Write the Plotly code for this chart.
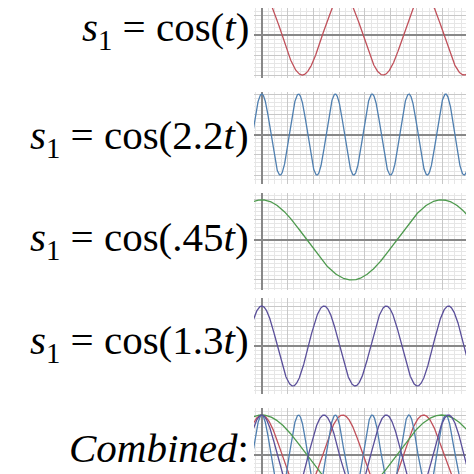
import numpy as np
import plotly.graph_objects as go

labels = ["<i>s</i><sub>1</sub> = cos(<i>t</i>)", "<i>s</i><sub>1</sub> = cos(2.2<i>t</i>)",
          "<i>s</i><sub>1</sub> = cos(.45<i>t</i>)", "<i>s</i><sub>1</sub> = cos(1.3<i>t</i>)",
          "<i>Combined</i>:"]
freqs = [1.0, 2.2, 0.45, 1.3]
colors = ["#c0505a", "#4f7fb0", "#4e9a4e", "#5a4f9a"]
# pixel domains (top, bottom) and y ranges per row
rows_px = [(0, 70), (84, 176), (185, 282), (290, 386), (400, 474)]
yranges = [[-1.075, 0.675], [-1.22, 1.05], [-1.25, 1.17], [-1.2, 1.2], [-0.675, 1.175]]
label_y = [22, 130, 232, 335, 440]

H = 474.0
t = np.linspace(-0.7, 17.6, 1500)
fig = go.Figure()
for r in range(5):
    ax = "" if r == 0 else str(r + 1)
    top, bot = rows_px[r]
    fig.layout["xaxis" + ax] = dict(domain=[246 / H, 1], range=[-0.6, 17.1], anchor="y" + ax,
        dtick=2, showgrid=True, gridcolor="#c8c8c8", gridwidth=1,
        minor=dict(dtick=0.5, showgrid=True, gridcolor="#e6e6e6"),
        zeroline=True, zerolinecolor="#888", zerolinewidth=1.5,
        showticklabels=False, fixedrange=True)
    fig.layout["yaxis" + ax] = dict(domain=[1 - bot / H, 1 - top / H], range=yranges[r], anchor="x" + ax,
        dtick=0.5, showgrid=True, gridcolor="#c8c8c8",
        minor=dict(dtick=0.1, showgrid=True, gridcolor="#e6e6e6"),
        zeroline=True, zerolinecolor="#888", zerolinewidth=1.5,
        showticklabels=False, fixedrange=True)
    if r < 4:
        fig.add_trace(go.Scatter(x=t, y=np.cos(freqs[r] * t), mode="lines",
                                 line=dict(color=colors[r], width=1.3),
                                 xaxis="x" + ax, yaxis="y" + ax))
    else:
        for f, c in zip(freqs, colors):
            fig.add_trace(go.Scatter(x=t, y=np.cos(f * t), mode="lines",
                                     line=dict(color=c, width=1.3),
                                     xaxis="x5", yaxis="y5"))
    fig.add_annotation(text=labels[r], xref="paper", yref="paper", x=243 / H, y=1 - label_y[r] / H,
                       xanchor="right", yanchor="middle", showarrow=False,
                       font=dict(family="Liberation Serif", size=41, color="black"))

fig.update_layout(width=474, height=474, margin=dict(l=0, r=0, t=0, b=0),
                  paper_bgcolor="white", plot_bgcolor="white", showlegend=False)
fig.write_html("out.html")
